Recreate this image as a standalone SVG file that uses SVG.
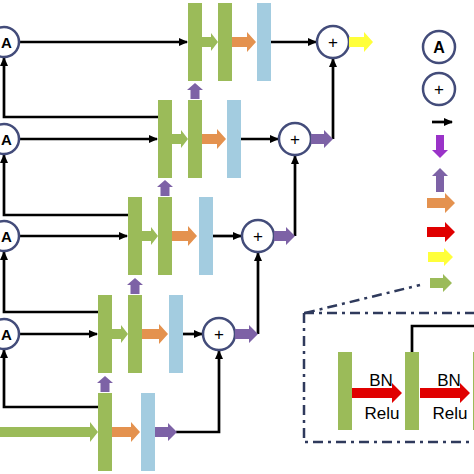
<svg xmlns="http://www.w3.org/2000/svg" width="474" height="474" viewBox="0 0 474 474">
<style>
.g{fill:#9BBB59}
.b{fill:#A3CCE0}
.o{fill:#E4924F}
.p{fill:#7D62A6}
.y{fill:#FFFF3A}
.r{fill:#E00000}
.m{fill:#9A33C8}
.ln{fill:none;stroke:#000;stroke-width:2.7}
.ar{marker-end:url(#ah)}
.c{fill:#fff;stroke:#434C7A;stroke-width:2.5}
.t{font-family:"Liberation Sans",Arial,sans-serif;fill:#000;text-anchor:middle}
.dd{fill:none;stroke:#2F3A5C;stroke-width:2.5;stroke-dasharray:10 5 3 5}
</style>
<defs>
<marker id="ah" markerWidth="9" markerHeight="8" refX="8" refY="4" orient="auto" markerUnits="userSpaceOnUse"><path d="M0,0 L9,4 L0,8 Z" fill="#000"/></marker>
</defs>

<g id="connectors">
<path class="ln ar" d="M19,42 H187"/>
<path class="ln ar" d="M19,139 H157"/>
<path class="ln ar" d="M19,236 H127"/>
<path class="ln ar" d="M19,334 H97"/>
<path class="ln ar" d="M158,117 H4 V58"/>
<path class="ln ar" d="M128,215 H4 V155"/>
<path class="ln ar" d="M98,312 H4 V252"/>
<path class="ln ar" d="M98,407 H4 V350"/>
<path class="ln ar" d="M271,42 H316"/>
<path class="ln ar" d="M241,139 H278"/>
<path class="ln ar" d="M213,236 H241"/>
<path class="ln ar" d="M183,334 H202"/>
<path class="ln ar" d="M333,139 V59"/>
<path class="ln ar" d="M295,236 V156"/>
<path class="ln ar" d="M258,334 V253"/>
<path class="ln ar" d="M176,432 H219 V351"/>
</g>

<g id="stage0">
<path class="g" d="M0,427 H90 V422 L98,432 L90,442 V437 H0 Z"/>
<rect class="g" x="98" y="393" width="14" height="78"/>
<path class="o" d="M112,427 H131 V422 L140,432 L131,442 V437 H112 Z"/>
<rect class="b" x="141" y="393" width="14" height="78"/>
<path class="p" d="M155,427 H168 V423 L177,432 L168,441 V437 H155 Z"/>
<path class="p" d="M100.5,392 V383 H97 L105,376 L113,383 H109.5 V392 Z"/>
</g>

<g id="stage1">
<rect class="g" x="98" y="295" width="14" height="78"/>
<path class="g" d="M112,329 H121 V325 L128,334 L121,343 V339 H112 Z"/>
<rect class="g" x="128" y="295" width="14" height="78"/>
<path class="o" d="M142,329 H159 V324 L168,334 L159,344 V339 H142 Z"/>
<rect class="b" x="169" y="295" width="14" height="78"/>
<path class="p" d="M130.5,294 V285 H127 L135,278 L143,285 H139.5 V294 Z"/>
</g>

<g id="stage2">
<rect class="g" x="128" y="197" width="14" height="78"/>
<path class="g" d="M142,231 H151 V227 L158,236 L151,245 V241 H142 Z"/>
<rect class="g" x="158" y="197" width="14" height="78"/>
<path class="o" d="M172,231 H188 V226 L197,236 L188,246 V241 H172 Z"/>
<rect class="b" x="199" y="197" width="14" height="78"/>
<path class="p" d="M160.5,196 V187 H157 L165,180 L173,187 H169.5 V196 Z"/>
</g>

<g id="stage3">
<rect class="g" x="158" y="100" width="14" height="78"/>
<path class="g" d="M172,134 H181 V130 L188,139 L181,148 V144 H172 Z"/>
<rect class="g" x="188" y="100" width="14" height="78"/>
<path class="o" d="M202,134 H217 V129 L226,139 L217,149 V144 H202 Z"/>
<rect class="b" x="227" y="100" width="14" height="78"/>
<path class="p" d="M190.5,99 V90 H187 L195,83 L203,90 H199.5 V99 Z"/>
</g>

<g id="stage4">
<rect class="g" x="188" y="3" width="14" height="78"/>
<path class="g" d="M202,37 H211 V33 L218,42 L211,51 V47 H202 Z"/>
<rect class="g" x="218" y="3" width="14" height="78"/>
<path class="o" d="M232,37 H247 V32 L256,42 L247,52 V47 H232 Z"/>
<rect class="b" x="257" y="3" width="14" height="78"/>
</g>

<g id="a4"><circle class="c" cx="4" cy="42" r="15"/><text class="t" x="6.5" y="47.5" font-size="15" font-weight="bold">A</text></g>
<g id="a3"><circle class="c" cx="4" cy="139" r="15"/><text class="t" x="6.5" y="144.5" font-size="15" font-weight="bold">A</text></g>
<g id="a2"><circle class="c" cx="4" cy="236" r="15"/><text class="t" x="6.5" y="241.5" font-size="15" font-weight="bold">A</text></g>
<g id="a1"><circle class="c" cx="4" cy="334" r="15"/><text class="t" x="6.5" y="339.5" font-size="15" font-weight="bold">A</text></g>

<g id="plus1"><circle class="c" cx="219" cy="334" r="16"/><text class="t" x="219" y="340" font-size="17">+</text>
<path class="p" d="M235,329 H249 V325 L258,334 L249,343 V339 H235 Z"/></g>
<g id="plus2"><circle class="c" cx="258" cy="236" r="16"/><text class="t" x="258" y="242" font-size="17">+</text>
<path class="p" d="M274,231 H286 V227 L295,236 L286,245 V241 H274 Z"/></g>
<g id="plus3"><circle class="c" cx="295" cy="139" r="16"/><text class="t" x="295" y="145" font-size="17">+</text>
<path class="p" d="M311,134 H324 V130 L333,139 L324,148 V144 H311 Z"/></g>
<g id="plus4"><circle class="c" cx="333" cy="42" r="16"/><text class="t" x="333" y="48" font-size="17">+</text>
<path class="y" d="M349,37 H364 V32 L373,42 L364,52 V47 H349 Z"/></g>

<g id="legend">
<circle class="c" cx="439" cy="47" r="16"/><text class="t" x="439" y="53" font-size="16" font-weight="bold">A</text>
<circle class="c" cx="439" cy="89" r="16"/><text class="t" x="439" y="95" font-size="17">+</text>
<path class="ln ar" d="M432,122 H452"/>
<path class="m" d="M436,135 V150 H432 L440,158 L448,150 H444 V135 Z"/>
<path class="p" d="M436,192 V176 H432 L440,168 L448,176 H444 V192 Z"/>
<path class="o" d="M427,198 H445 V193 L455,203 L445,213 V208 H427 Z"/>
<path class="r" d="M427,227 H445 V222 L455,232 L445,242 V237 H427 Z"/>
<path class="y" d="M428,252 H444 V248 L453,257 L444,266 V262 H428 Z"/>
<path class="g" d="M430,278 H443 V274 L452,283 L443,292 V288 H430 Z"/>
</g>

<g id="detail">
<path class="dd" d="M305,313 L420,285"/>
<path class="dd" d="M304,313 H480 M304,313 V442 H480"/>
<rect class="g" x="338" y="352" width="14" height="78"/>
<rect class="g" x="405" y="352" width="14" height="78"/>
<rect class="g" x="473" y="352" width="14" height="78"/>
<path class="ln" d="M412,352 V326 H480"/>
<path class="r" d="M352,388 H392 V383 L402,393 L392,403 V398 H352 Z"/>
<path class="r" d="M420,388 H460 V383 L470,393 L460,403 V398 H420 Z"/>
<text class="t" x="381" y="386" font-size="17">BN</text>
<text class="t" x="382" y="419" font-size="17">Relu</text>
<text class="t" x="449" y="386" font-size="17">BN</text>
<text class="t" x="450" y="419" font-size="17">Relu</text>
</g>
</svg>
